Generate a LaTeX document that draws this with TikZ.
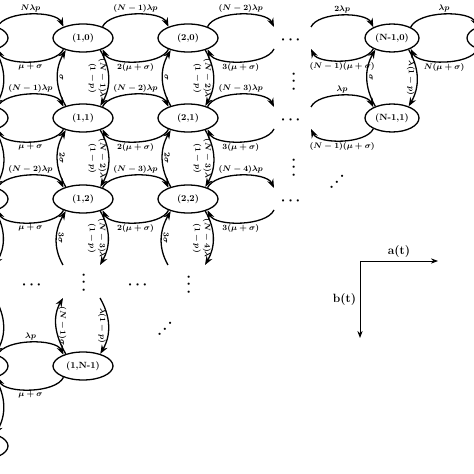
\documentclass[tikz,border=0pt]{standalone}
\usepackage{amsmath}
\usepackage{tikz}
\usetikzlibrary{arrows.meta, shapes.geometric}

\begin{document}
\begin{tikzpicture}[x=1pt, y=1pt, >=Stealth, line width=1.3pt,
  state/.style = {draw, ellipse, minimum width=60, minimum height=28,
                  inner sep=0pt, font=\bfseries\small},
  nstate/.style = {minimum width=54},
  lbl/.style   = {font=\boldmath\fontsize{8.5}{10}\selectfont, inner sep=1.5pt},
  vlbl/.style  = {font=\boldmath\fontsize{8.5}{10}\selectfont, rotate=-90,
                  align=center, inner sep=1.5pt},
  fwd/.style   = {out=65, in=115, looseness=0.7},
  bwd/.style   = {out=245, in=295, looseness=0.7},
  dwn/.style   = {out=-60, in=60},
  upw/.style   = {out=120, in=240},
  hdots/.style = {font=\Large\boldmath, inner sep=0pt}
]
  \useasboundingbox (0,0) rectangle (474,474);
  \clip (0,0) rectangle (474,474);

  %% states
  \node[state] (s00) at (-22,436) {};
  \node[state] (s10) at (83,436)  {(1,0)};
  \node[state] (s20) at (188,436) {(2,0)};
  \node[state, nstate] (sm0) at (392,436) {(N-1,0)};
  \node[state] (sn0) at (497,436) {};

  \node[state] (s01) at (-22,356) {};
  \node[state] (s11) at (83,356)  {(1,1)};
  \node[state] (s21) at (188,356) {(2,1)};
  \node[state, nstate] (sm1) at (392,356) {(N-1,1)};

  \node[state] (s02) at (-22,275) {};
  \node[state] (s12) at (83,275)  {(1,2)};
  \node[state] (s22) at (188,275) {(2,2)};

  \node[state] (s0m) at (-22,108) {};
  \node[state] (s1m) at (83,108)  {(1,N-1)};
  \node[state] (s0n) at (-22,28)  {};

  %% free ends
  \coordinate (h0a) at (274,447); \coordinate (h0b) at (274,425);
  \coordinate (h0c) at (311,447); \coordinate (h0d) at (311,425);
  \coordinate (h1a) at (274,367); \coordinate (h1b) at (274,345);
  \coordinate (h1c) at (311,367); \coordinate (h1d) at (311,345);
  \coordinate (h2a) at (274,286); \coordinate (h2b) at (274,264);
  \coordinate (v0a) at (-5,209);  \coordinate (v0b) at (-5,176);
  \coordinate (v1a) at (63,209);  \coordinate (v1b) at (100,209);
  \coordinate (v2a) at (168,209); \coordinate (v2b) at (205,209);
  \coordinate (v1c) at (63,176);  \coordinate (v1d) at (100,176);

  %% row 0
  \draw[->] (s00.30) to[fwd] node[lbl, above]{$N\lambda p$} (s10.150);
  \draw[->] (s10.-150) to[bwd] node[lbl, below]{$\mu+\sigma$} (s00.-30);
  \draw[->] (s10.30) to[fwd] node[lbl, above]{$(N-1)\lambda p$} (s20.150);
  \draw[->] (s20.-150) to[bwd] node[lbl, below]{$2(\mu+\sigma)$} (s10.-30);
  \draw[->] (s20.30) to[fwd] node[lbl, above]{$(N-2)\lambda p$} (h0a);
  \draw[->] (h0b) to[bwd] node[lbl, below]{$3(\mu+\sigma)$} (s20.-30);
  \draw[->] (h0c) to[fwd] node[lbl, above]{$2\lambda p$} (sm0.150);
  \draw[->] (sm0.-150) to[bwd] node[lbl, below]{$(N-1)(\mu+\sigma)$} (h0d);
  \draw[->] (sm0.30) to[fwd] node[lbl, above]{$\lambda p$} (sn0.150);
  \draw[->] (sn0.-150) to[bwd] node[lbl, below]{$N(\mu+\sigma)$} (sm0.-30);

  %% row 1
  \draw[->] (s01.30) to[fwd] node[lbl, above]{$(N-1)\lambda p$} (s11.150);
  \draw[->] (s11.-150) to[bwd] node[lbl, below]{$\mu+\sigma$} (s01.-30);
  \draw[->] (s11.30) to[fwd] node[lbl, above]{$(N-2)\lambda p$} (s21.150);
  \draw[->] (s21.-150) to[bwd] node[lbl, below]{$2(\mu+\sigma)$} (s11.-30);
  \draw[->] (s21.30) to[fwd] node[lbl, above]{$(N-3)\lambda p$} (h1a);
  \draw[->] (h1b) to[bwd] node[lbl, below]{$3(\mu+\sigma)$} (s21.-30);
  \draw[->] (h1c) to[fwd] node[lbl, above]{$\lambda p$} (sm1.150);
  \draw[->] (sm1.-150) to[bwd] node[lbl, below]{$(N-1)(\mu+\sigma)$} (h1d);

  %% row 2
  \draw[->] (s02.30) to[fwd] node[lbl, above]{$(N-2)\lambda p$} (s12.150);
  \draw[->] (s12.-150) to[bwd] node[lbl, below]{$\mu+\sigma$} (s02.-30);
  \draw[->] (s12.30) to[fwd] node[lbl, above]{$(N-3)\lambda p$} (s22.150);
  \draw[->] (s22.-150) to[bwd] node[lbl, below]{$2(\mu+\sigma)$} (s12.-30);
  \draw[->] (s22.30) to[fwd] node[lbl, above]{$(N-4)\lambda p$} (h2a);
  \draw[->] (h2b) to[bwd] node[lbl, below]{$3(\mu+\sigma)$} (s22.-30);

  %% row N-1
  \draw[->] (s0m.30) to[fwd] node[lbl, above]{$\lambda p$} (s1m.150);
  \draw[->] (s1m.-150) to[bwd] node[lbl, below]{$\mu+\sigma$} (s0m.-30);

  %% column 0 (right arcs only)
  \draw[->] (s00.-35) to[dwn] (s01.35);
  \draw[->] (s01.-35) to[dwn] (s02.35);
  \draw[->] (s02.-35) to[dwn] (v0a);
  \draw[->] (v0b) to[dwn] (s0m.35);
  \draw[->] (s0m.-35) to[dwn] (s0n.35);

  %% column 1
  \draw[->] (s11.145) to[upw] node[vlbl, anchor=south]{$\sigma$} (s10.-145);
  \draw[->] (s10.-35) to[dwn] node[vlbl, anchor=north]{$(N-1)\lambda$\\$(1-p)$} (s11.35);
  \draw[->] (s12.145) to[upw] node[vlbl, anchor=south]{$2\sigma$} (s11.-145);
  \draw[->] (s11.-35) to[dwn] node[vlbl, anchor=north]{$(N-2)\lambda$\\$(1-p)$} (s12.35);
  \draw[->] (v1a) to[upw] node[vlbl, anchor=south]{$3\sigma$} (s12.-145);
  \draw[->] (s12.-35) to[dwn] node[vlbl, anchor=north]{$(N-3)\lambda$\\$(1-p)$} (v1b);
  \draw[->] (s1m.145) to[upw] node[vlbl, anchor=south]{$(N-1)\sigma$} (v1c);
  \draw[->] (v1d) to[dwn] node[vlbl, anchor=north]{$\lambda(1-p)$} (s1m.35);

  %% column 2
  \draw[->] (s21.145) to[upw] node[vlbl, anchor=south]{$\sigma$} (s20.-145);
  \draw[->] (s20.-35) to[dwn] node[vlbl, anchor=north]{$(N-2)\lambda$\\$(1-p)$} (s21.35);
  \draw[->] (s22.145) to[upw] node[vlbl, anchor=south]{$2\sigma$} (s21.-145);
  \draw[->] (s21.-35) to[dwn] node[vlbl, anchor=north]{$(N-3)\lambda$\\$(1-p)$} (s22.35);
  \draw[->] (v2a) to[upw] node[vlbl, anchor=south]{$3\sigma$} (s22.-145);
  \draw[->] (s22.-35) to[dwn] node[vlbl, anchor=north]{$(N-4)\lambda$\\$(1-p)$} (v2b);

  %% column N-1
  \draw[->] (sm1.145) to[upw] node[vlbl, anchor=south]{$\sigma$} (sm0.-145);
  \draw[->] (sm0.-35) to[dwn] node[vlbl, anchor=north]{$\lambda(1-p)$} (sm1.35);

  %% dots
  \node[hdots] (d0) at (292,434) {$\cdots$};
  \node[hdots] (d1) at (292,354) {$\cdots$};
  \node[hdots] (d2) at (292,273) {$\cdots$};
  \node[hdots, rotate=90] (e0) at (294,394) {$\cdots$};
  \node[hdots, rotate=90] (e1) at (294,308) {$\cdots$};
  \node[hdots, rotate=45] (f2) at (338,293) {$\cdots$};
  \node[hdots] (d3) at (33,189)  {$\cdots$};
  \node[hdots] (d4) at (139,189) {$\cdots$};
  \node[hdots, rotate=90] (e3) at (84,193)  {$\cdots$};
  \node[hdots, rotate=90] (e4) at (189,191) {$\cdots$};
  \node[hdots, rotate=45] (f3) at (166,146) {$\cdots$};

  %% axes
  \coordinate (o)  at (360,213);
  \coordinate (ta) at (438,213);
  \coordinate (tb) at (360,136);
  \draw[->, line width=0.9pt] (o) -- node[above, font=\bfseries\large]{a(t)} (ta);
  \draw[->, line width=0.9pt] (o) -- node[left, font=\bfseries\large]{b(t)} (tb);
\end{tikzpicture}
\end{document}
